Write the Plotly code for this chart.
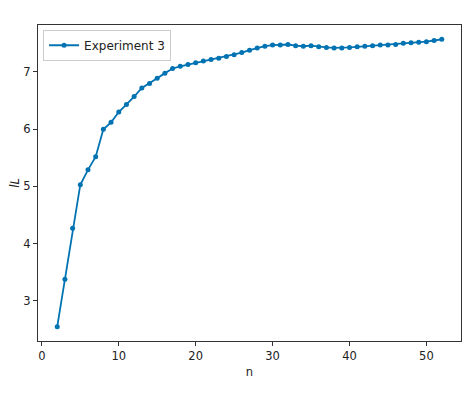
import plotly.graph_objects as go

n_values = list(range(2, 53))
lL_values = [2.55, 3.38, 4.27, 5.03, 5.29, 5.52, 6.00, 6.12, 6.30, 6.43,
             6.57, 6.72, 6.80, 6.89, 6.98, 7.06, 7.10, 7.13, 7.16, 7.19,
             7.22, 7.24, 7.27, 7.30, 7.34, 7.38, 7.42, 7.45, 7.47, 7.47,
             7.48, 7.46, 7.45, 7.46, 7.44, 7.43, 7.42, 7.42, 7.43, 7.44,
             7.45, 7.46, 7.47, 7.47, 7.48, 7.50, 7.51, 7.52, 7.53, 7.55,
             7.57]
series_name = "Experiment 3"
x_ticks = [0, 10, 20, 30, 40, 50]
y_ticks = [3, 4, 5, 6, 7]

color = "#0173B2"
font = "DejaVu Sans"

fig = go.Figure()
fig.add_trace(go.Scatter(
    x=n_values, y=lL_values, mode="lines+markers", name=series_name,
    line=dict(color=color, width=1.8),
    marker=dict(color=color, size=5),
))

axis_common = dict(
    showline=True, linecolor="#333333", linewidth=1, mirror=True,
    showgrid=False, zeroline=False, automargin=False,
    ticks="outside", ticklen=4, tickcolor="#333333", tickwidth=1,
    tickfont=dict(family=font, size=11.5, color="#222222"),
)

# page body has an 8px default margin, so the figure is sized to fit the window
fig.update_layout(
    width=466, height=390,
    margin=dict(l=30, r=13, t=17, b=57),
    paper_bgcolor="white", plot_bgcolor="white",
    font=dict(family=font, size=11.5, color="#222222"),
    showlegend=True,
    legend=dict(
        x=0.012, y=0.985, xanchor="left", yanchor="top",
        bordercolor="#cccccc", borderwidth=1, bgcolor="rgba(255,255,255,0.8)",
        font=dict(family=font, size=12, color="#222222"),
        itemwidth=30,
    ),
    xaxis=dict(range=[-0.5, 54.5], tickvals=x_ticks,
               title=dict(text="n", font=dict(family=font, size=11.5), standoff=6),
               **axis_common),
    yaxis=dict(range=[2.299, 7.821], tickvals=y_ticks,
               title=dict(text="<i>lL</i>", font=dict(family=font, size=11.5), standoff=4),
               **axis_common),
)

fig.write_html("out.html")
